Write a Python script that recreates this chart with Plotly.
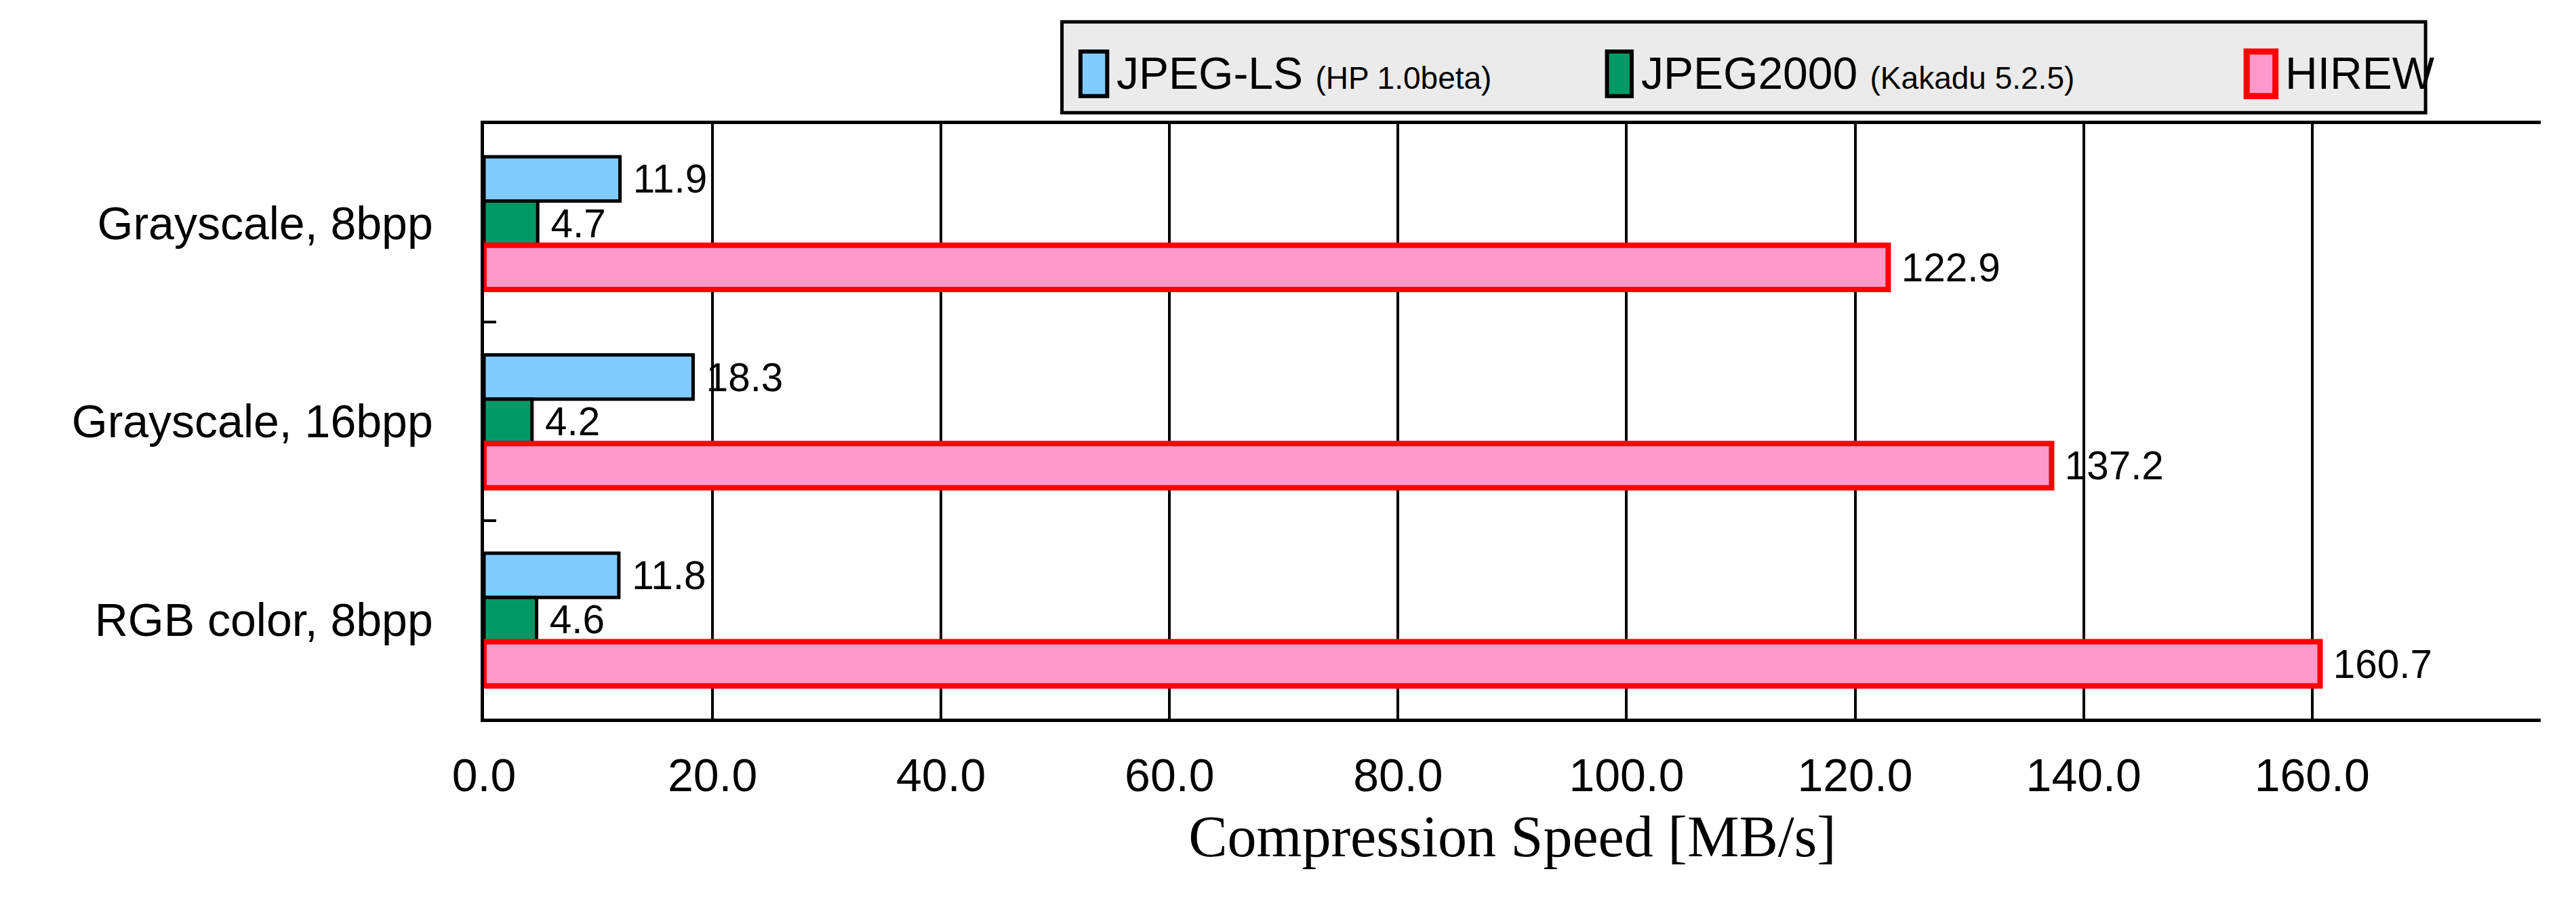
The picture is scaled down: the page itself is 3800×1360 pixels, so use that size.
import plotly.graph_objects as go

categories = ["Grayscale, 8bpp", "Grayscale, 16bpp", "RGB color, 8bpp"]
jpegls = [11.9, 18.3, 11.8]
jpeg2000 = [4.7, 4.2, 4.6]
hirew = [122.9, 137.2, 160.7]
x_ticks = [0, 20, 40, 60, 80, 100, 120, 140, 160, 180]
legend_names = ["JPEG-LS", "JPEG2000", "HIREW"]
legend_subs = ["(HP 1.0beta)", "(Kakadu 5.2.5)", ""]

fig = go.Figure()
styles = [("#80ccff", "black", 5), ("#009966", "black", 5), ("#ff99cc", "#ff0000", 8)]
for name, vals, (fill, line, lw) in zip(legend_names, [jpegls, jpeg2000, hirew], styles):
    fig.add_trace(go.Bar(
        y=categories, x=vals, orientation="h", name=name,
        marker=dict(color=fill, line=dict(color=line, width=lw)),
        text=[f" {v:.1f}" for v in vals], textposition="outside", cliponaxis=False,
        textfont=dict(family="Liberation Sans", size=68, color="black")))

# custom legend
fig.add_shape(type="rect", xref="paper", yref="paper", x0=0.281, x1=0.944, y0=1.019, y1=1.172,
              fillcolor="#ebebeb", line=dict(color="black", width=5))
sw = [(0.290, 0.303, 0.307), (0.546, 0.558, 0.562), (0.857, 0.871, 0.875)]
for (x0, x1, xt), (fill, line, lw), nm, sub in zip(sw, styles, legend_names, legend_subs):
    fig.add_shape(type="rect", xref="paper", yref="paper", x0=x0, x1=x1, y0=1.047, y1=1.122,
                  fillcolor=fill, line=dict(color=line, width=lw + 1))
    txt = nm + (f" <span style='font-size:46px'>{sub}</span>" if sub else "")
    fig.add_annotation(xref="paper", yref="paper", x=xt, y=1.085, text=txt, showarrow=False,
                       xanchor="left", yanchor="middle", font=dict(size=66, family="Liberation Sans"))

fig.update_layout(
    width=3800, height=1360, plot_bgcolor="white", paper_bgcolor="white",
    barmode="group", bargap=0.33, bargroupgap=0, showlegend=False,
    margin=dict(l=706, r=60, t=175, b=308),
    font=dict(family="Liberation Sans", size=68, color="black"),
)
fig.update_xaxes(range=[0, 180.01], tickvals=x_ticks, ticktext=[f"{v:.1f}" for v in x_ticks],
                 showgrid=True, gridcolor="black", gridwidth=4, zeroline=False,
                 showline=True, linecolor="black", linewidth=5, mirror=True,
                 ticks="outside", ticklen=20, tickcolor="white", tickfont=dict(size=68),
                 title=dict(text="Compression Speed [MB/s]",
                            font=dict(family="Liberation Serif", size=86), standoff=25))
fig.update_yaxes(autorange="reversed", ticks="inside", tickson="boundaries", ticklen=18,
                 tickwidth=4, tickcolor="black", showline=True, linecolor="black",
                 linewidth=5, tickfont=dict(size=68), ticksuffix="   ")
fig.write_html("out.html")
